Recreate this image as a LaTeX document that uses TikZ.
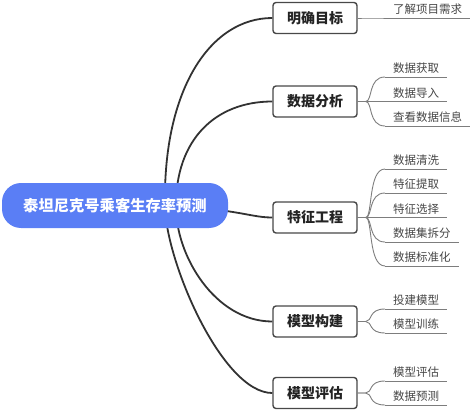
\documentclass[tikz,border=0pt]{standalone}
\usepackage{fontspec}
\setmainfont{Noto Sans CJK SC}
\usepackage{xcolor}
\usepackage{tikz}
\usetikzlibrary{positioning, calc, backgrounds}
\definecolor{myblue}{RGB}{90,126,245}
\definecolor{mydark}{RGB}{50,50,50}
\definecolor{myborder}{RGB}{72,72,72}
\definecolor{mytext}{RGB}{35,35,35}
\definecolor{leaftext}{RGB}{70,70,70}
\definecolor{leafgray}{RGB}{125,125,125}
\tikzset{
  rootnode/.style={rectangle, fill=myblue, text=white,
    minimum width=226pt, minimum height=45pt, rounded corners=19pt,
    font=\fontsize{15.3}{18}\selectfont\bfseries},
  topic/.style={rectangle, draw=myborder, fill=white, text=mytext,
    minimum width=84pt, minimum height=31pt, rounded corners=3pt,
    font=\fontsize{14}{16}\selectfont\bfseries, line width=1.4pt},
  leaf/.style={anchor=south west, inner xsep=8pt, inner ysep=3pt,
    text=leaftext, font=\fontsize{11.5}{13}\selectfont},
  trunk/.style={line width=1.8pt, color=mydark},
  leafline/.style={line width=0.9pt, color=leafgray}
}
\begin{document}
\begin{tikzpicture}[x=1pt, y=-1pt]
  \useasboundingbox (0,0) rectangle (474,412);

  % Root
  \node[rootnode] (root) at (115,205.5) {泰坦尼克号乘客生存率预测};

  % Main topics
  \node[topic] (goal) at (315,18) {明确目标};
  \node[topic] (ana) at (315,101.5) {数据分析};
  \node[topic] (feat) at (315,217.5) {特征工程};
  \node[topic] (build) at (315,321.5) {模型构建};
  \node[topic] (eval) at (315,393) {模型评估};

  % Trunk curves behind the root
  \begin{pgfonlayer}{background}
    \coordinate (sA) at (165,205);
    \coordinate (sB) at (176,205);
    \draw[trunk] (sA) .. controls (163,90) and (210,18) .. (goal.west);
    \draw[trunk] (sB) .. controls (176,140) and (215,101.5) .. (ana.west);
    \draw[trunk] (root.center) .. controls (235,205) and (245,217.5) .. (feat.west);
    \draw[trunk] (sB) .. controls (175,255) and (215,321.5) .. (build.west);
    \draw[trunk] (sA) .. controls (165,260) and (222,393) .. (eval.west);
  \end{pgfonlayer}

  % Leaves
  \node[leaf] (g1) at (385,18) {了解项目需求};

  \node[leaf] (a1) at (385,77) {数据获取};
  \node[leaf] (a2) at (385,101.5) {数据导入};
  \node[leaf] (a3) at (385,126) {查看数据信息};

  \node[leaf] (f1) at (385,169) {数据清洗};
  \node[leaf] (f2) at (385,193) {特征提取};
  \node[leaf] (f3) at (385,217.5) {特征选择};
  \node[leaf] (f4) at (385,242) {数据集拆分};
  \node[leaf] (f5) at (385,266) {数据标准化};

  \node[leaf] (b1) at (385,309) {投建模型};
  \node[leaf] (b2) at (385,333) {模型训练};

  \node[leaf] (e1) at (385,381) {模型评估};
  \node[leaf] (e2) at (385,405) {数据预测};

  % Underlines and sub-branches
  \foreach \n in {g1,a1,a2,a3,f1,f2,f3,f4,f5,b1,b2,e1,e2}
    \draw[leafline] (\n.south west) -- (\n.south east);
  \foreach \p/\n in {goal/g1, ana/a1, ana/a2, ana/a3,
      feat/f1, feat/f2, feat/f3, feat/f4, feat/f5,
      build/b1, build/b2, eval/e1, eval/e2}
    \draw[leafline] (\p.east) -- ++(8,0)
      .. controls +(7,0) and +(-17,0) .. (\n.south west);
\end{tikzpicture}
\end{document}
